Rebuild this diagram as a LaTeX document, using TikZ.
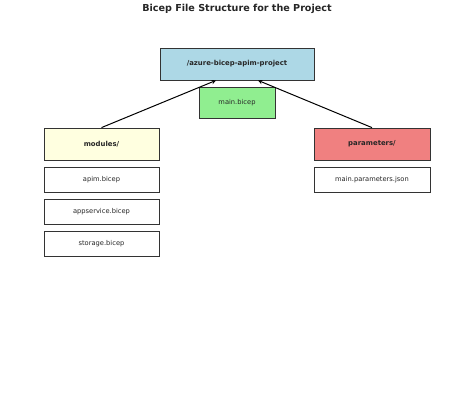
\documentclass[tikz,border=0pt]{standalone}
\usepackage{fontspec}
\setmainfont{DejaVu Sans}
\usepackage{xcolor}
\usetikzlibrary{shapes,arrows,positioning,fit,calc}

\definecolor{rootblue}{HTML}{ADD8E6}
\definecolor{maingreen}{HTML}{90EE90}
\definecolor{modyellow}{HTML}{FFFFE0}
\definecolor{paramred}{HTML}{F08080}
\definecolor{edgegray}{HTML}{333333}
\definecolor{textgray}{HTML}{262626}

\begin{document}
\begin{tikzpicture}[
        x=1pt, y=-1pt,
        % Styles
        folderbox/.style={
            rectangle,
            draw=edgegray,
            line width=0.8pt,
            minimum width=115pt,
            minimum height=32pt,
            inner sep=0pt,
            align=center,
            text=textgray,
            font=\fontsize{6.9}{8}\selectfont\bfseries
        },
        filebox/.style={
            rectangle,
            draw=edgegray,
            line width=0.8pt,
            fill=white,
            minimum width=115pt,
            minimum height=25pt,
            inner sep=0pt,
            align=center,
            text=textgray,
            font=\fontsize{6.7}{8}\selectfont
        },
        arrow/.style={
            -stealth,
            line width=1pt
        }
    ]

    % Canvas
    \useasboundingbox (0,0) rectangle (474,405);

    % Title
    \node[text=textgray, font=\fontsize{9.6}{11}\selectfont\bfseries] (title) at (237,9) {Bicep File Structure for the Project};

    % Project root
    \node[folderbox, fill=rootblue, minimum width=154pt] (root) at (237,64) {/azure-bicep-apim-project};
    \node[filebox, fill=maingreen, minimum width=76pt, minimum height=31pt, below=6.2pt of root] (mainfile) {main.bicep};

    % Modules folder
    \node[folderbox, fill=modyellow] (modules) at (101.5,144) {modules/};
    \node[filebox, below=6.2pt of modules] (apim) {apim.bicep};
    \node[filebox, below=6.2pt of apim] (appservice) {appservice.bicep};
    \node[filebox, below=6.2pt of appservice] (storage) {storage.bicep};

    % Parameters folder
    \node[folderbox, fill=paramred, minimum width=116pt] (params) at (372,144) {parameters/};
    \node[filebox, minimum width=116pt, below=6.2pt of params] (paramfile) {main.parameters.json};

    % Links to the root
    \draw[arrow] (modules.north) -- ([xshift=-21pt]root.south);
    \draw[arrow] (params.north) -- ([xshift=21pt]root.south);

\end{tikzpicture}
\end{document}
